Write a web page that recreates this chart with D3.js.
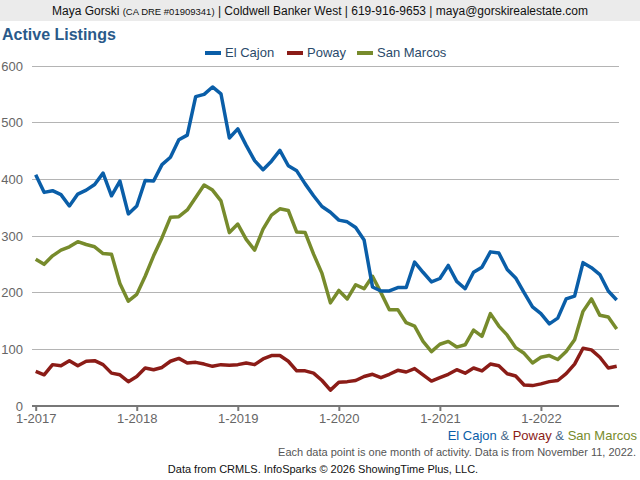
<!DOCTYPE html>
<html><head><meta charset="utf-8">
<script src="https://cdn.jsdelivr.net/npm/d3@7"></script>
<style>body{margin:0;background:#fff;}svg{display:block;font-family:Arial,"Liberation Sans",sans-serif;}</style>
</head><body>
<script>
const xTickLabels = ["1-2017","1-2018","1-2019","1-2020","1-2021","1-2022"];
const xTickIndex = [0,12,24,36,48,60];
const yTicks = [0,100,200,300,400,500,600];
const seriesNames = ["El Cajon","Poway","San Marcos"];
const seriesColors = ["#0a5ea8","#8b1c17","#778b2c"];
const elCajon = [408,377,380,373,353,374,381,391,411,371,397,339,353,398,397,426,439,470,
  478,546,550,563,551,473,489,460,433,417,432,451,424,415,392,371,352,342,
  328,325,315,293,210,203,203,209,209,254,236,219,225,248,220,207,236,245,
  272,270,241,226,200,175,163,145,155,189,194,253,244,232,203,187];
const poway = [61,55,73,71,80,71,79,80,73,58,55,43,52,67,64,68,79,84,
  76,77,74,70,73,72,73,76,73,83,89,89,79,62,62,58,45,28,
  42,43,45,52,56,50,56,63,60,66,55,44,50,56,64,58,67,62,
  74,71,57,53,37,36,39,43,45,57,74,102,99,86,67,70];
const sanMarcos = [259,250,265,275,281,290,285,281,269,268,216,185,197,229,265,297,333,334,
  346,368,390,381,362,306,321,294,275,312,337,348,345,307,306,268,234,182,
  204,189,214,207,229,200,170,170,147,141,114,96,109,114,104,108,134,123,
  163,141,125,103,93,76,86,89,82,96,117,167,189,160,157,136];
const allSeries = [elCajon, poway, sanMarcos];

const W=640,H=480;
const svg=d3.select("body").append("svg").attr("width",W).attr("height",H);

// header
svg.append("rect").attr("x",0).attr("y",0).attr("width",W).attr("height",21).attr("fill","#ebebeb");
const ht=svg.append("text").attr("x",320).attr("y",15).attr("text-anchor","middle").attr("fill","#111").style("font-size","12px");
ht.append("tspan").text("Maya Gorski ");
ht.append("tspan").style("font-size","9.5px").text("(CA DRE #01909341)");
ht.append("tspan").text(" | Coldwell Banker West | 619-916-9653 | maya@gorskirealestate.com");

svg.append("text").attr("x",2).attr("y",40).attr("fill","#2a5a8a").style("font-size","16px").style("font-weight","bold").text("Active Listings");

const x=d3.scaleLinear().domain([0,69]).range([35.7,616.7]);
const y=d3.scaleLinear().domain([0,600]).range([406,66]);
const plotL=32, plotR=619;

// grid
svg.append("g").selectAll("line").data(yTicks.filter(d=>d>0)).join("line")
  .attr("x1",plotL).attr("x2",plotR).attr("y1",d=>y(d)).attr("y2",d=>y(d))
  .attr("stroke","#b4b4b4").attr("stroke-width",1).attr("shape-rendering","crispEdges");

// y labels
svg.append("g").selectAll("text").data(yTicks).join("text")
  .attr("x",23).attr("y",d=>y(d)+4.5).attr("text-anchor","end").attr("fill","#666").style("font-size","13px").text(d=>d);

// x axis
const xAxis=d3.axisBottom(x).tickValues(xTickIndex).tickFormat((d,i)=>xTickLabels[i]).tickSize(5).tickPadding(3);
const gx=svg.append("g").attr("transform","translate(0,406)").call(xAxis);
gx.select(".domain").attr("d",`M${plotL},0H${plotR}`).attr("stroke","#777").attr("stroke-width",2);
gx.selectAll(".tick line").attr("stroke","#777").attr("stroke-width",2);
gx.selectAll(".tick text").attr("fill","#666").style("font-size","13px").style("font-family","Arial,'Liberation Sans',sans-serif");

// lines
const line=d3.line().x((d,i)=>x(i)).y(d=>y(d));
[2,1,0].forEach(k=>{
  svg.append("path").datum(allSeries[k]).attr("d",line).attr("fill","none")
    .attr("stroke",seriesColors[k]).attr("stroke-width",3.5).attr("stroke-linejoin","round");
});

// legend
const legX=[205,287,357];
seriesNames.forEach((n,i)=>{
  svg.append("rect").attr("x",legX[i]).attr("y",51).attr("width",16).attr("height",4).attr("fill",seriesColors[i]);
  svg.append("text").attr("x",legX[i]+20).attr("y",57).attr("fill","#2a4a6a").style("font-size","13px").text(n);
});

// bottom right legend
const bt=svg.append("text").attr("x",637).attr("y",440).attr("text-anchor","end").style("font-size","13px");
bt.append("tspan").attr("fill",seriesColors[0]).text("El Cajon");
bt.append("tspan").attr("fill","#4a6a8a").text(" & ");
bt.append("tspan").attr("fill",seriesColors[1]).text("Poway");
bt.append("tspan").attr("fill","#4a6a8a").text(" & ");
bt.append("tspan").attr("fill",seriesColors[2]).text("San Marcos");

svg.append("text").attr("x",636).attr("y",456).attr("text-anchor","end").attr("fill","#555").style("font-size","11px")
  .text("Each data point is one month of activity. Data is from November 11, 2022.");
svg.append("text").attr("x",323).attr("y",473).attr("text-anchor","middle").attr("fill","#111").style("font-size","11px")
  .text("Data from CRMLS. InfoSparks © 2026 ShowingTime Plus, LLC.");
</script>
</body></html>
